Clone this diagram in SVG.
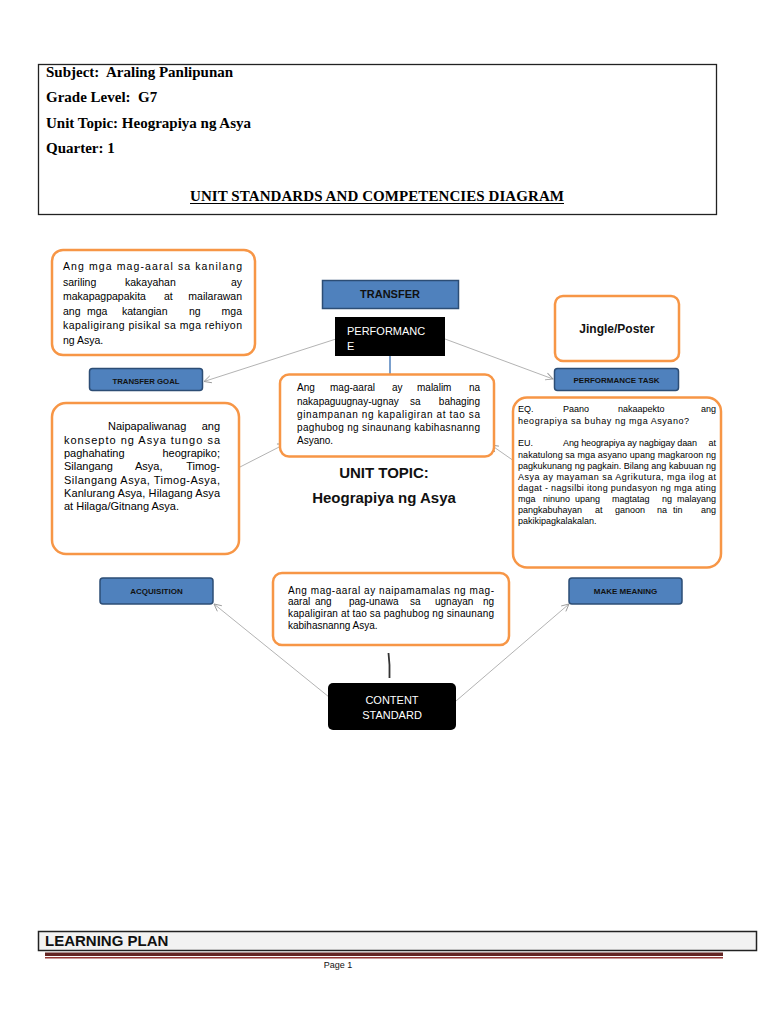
<svg xmlns="http://www.w3.org/2000/svg" width="768" height="1024" viewBox="0 0 768 1024">
<defs>
<marker id="arr" viewBox="0 0 10 10" refX="9" refY="5" markerWidth="9" markerHeight="9" orient="auto" markerUnits="userSpaceOnUse">
<path d="M1,1 L9,5 L1,9" fill="none" stroke="#9a9a9a" stroke-width="1"/>
</marker>
<style>
.hdr{font-family:"Liberation Serif","Times New Roman",serif;font-weight:bold;font-size:15px;fill:#000}
.ob{fill:#fff;stroke:#f79646;stroke-width:2.5}
.bb{fill:#4f81bd;stroke:#2c4d75;stroke-width:1.5}
.blk{fill:#000}
.t{font-family:"Liberation Sans",Arial,sans-serif;fill:#000}
.s105{font-size:10.5px}
.s10{font-size:10px}
.s11{font-size:11px}
.s9{font-size:9px}
.lbl{font-family:"Liberation Sans",Arial,sans-serif;font-weight:bold;fill:#111;text-anchor:middle}
.wt{font-family:"Liberation Sans",Arial,sans-serif;fill:#fff;font-size:11px}
.con{stroke:#a0a0a0;stroke-width:0.8;fill:none}
.e{text-anchor:end}
</style>
</defs>
<rect width="768" height="1024" fill="#fff"/>

<g id="header">
<rect x="38.5" y="64.5" width="678" height="150" fill="#fff" stroke="#222" stroke-width="1.3"/>
<text class="hdr" x="46" y="77">Subject:&#160; Araling Panlipunan</text>
<text class="hdr" x="46" y="102">Grade Level:&#160; G7</text>
<text class="hdr" x="46" y="128">Unit Topic: Heograpiya ng Asya</text>
<text class="hdr" x="46" y="153">Quarter: 1</text>
<text class="hdr" x="190" y="201" textLength="374" lengthAdjust="spacing">UNIT STANDARDS AND COMPETENCIES DIAGRAM</text>
<line x1="190" y1="203.5" x2="564" y2="203.5" stroke="#000" stroke-width="1.2"/>
</g>

<g id="connectors">
<line class="con" x1="336" y1="339" x2="204" y2="381.5" marker-end="url(#arr)"/>
<line class="con" x1="445" y1="339" x2="553" y2="379" marker-end="url(#arr)"/>
<line class="con" x1="240" y1="467" x2="285" y2="444" marker-end="url(#arr)"/>
<line class="con" x1="514" y1="461" x2="491" y2="445" marker-end="url(#arr)"/>
<line class="con" x1="329" y1="697" x2="214" y2="604" marker-end="url(#arr)"/>
<line class="con" x1="456" y1="701" x2="569" y2="604" marker-end="url(#arr)"/>
<line x1="390" y1="356" x2="390" y2="375" stroke="#4f81bd" stroke-width="1.5"/>
<path d="M388.5,653 L389.5,665 L389.5,678" stroke="#333" stroke-width="1.8" fill="none"/>
</g>

<g id="transfer-goal-text">
<rect class="ob" x="52" y="250" width="203" height="105" rx="11"/>
<text class="t s105" x="63" y="270" textLength="179" lengthAdjust="spacing">Ang mga mag-aaral sa kanilang</text>
<text class="t s105" y="285.5"><tspan x="63">sariling</tspan><tspan x="125">kakayahan</tspan></text>
<text class="t s105 e" x="242" y="285.5">ay</text>
<text class="t s105" y="300"><tspan x="63">makapagpapakita</tspan><tspan x="164">at</tspan></text>
<text class="t s105 e" x="242" y="300">mailarawan</text>
<text class="t s105" y="314.5"><tspan x="63">ang</tspan><tspan x="87">mga</tspan><tspan x="122">katangian</tspan><tspan x="189">ng</tspan></text>
<text class="t s105 e" x="242" y="314.5">mga</text>
<text class="t s105" x="63" y="329" textLength="179" lengthAdjust="spacing">kapaligirang pisikal sa mga rehiyon</text>
<text class="t s105" x="63" y="343.5">ng Asya.</text>
</g>

<g id="transfer-goal">
<rect class="bb" x="89.5" y="368.5" width="113" height="22" rx="3"/>
<text class="lbl" x="146" y="384" font-size="7.8">TRANSFER GOAL</text>
</g>

<g id="transfer">
<rect class="bb" x="322.5" y="280.5" width="136" height="28"/>
<text class="lbl" x="390" y="298" font-size="11">TRANSFER</text>
</g>

<g id="performance">
<rect class="blk" x="335" y="317" width="110" height="39"/>
<text class="wt" x="347" y="335">PERFORMANC</text>
<text class="wt" x="347" y="350">E</text>
</g>

<g id="performance-standard">
<rect class="ob" x="280" y="374.5" width="214" height="82" rx="9"/>
<text class="t s10" y="391"><tspan x="297">Ang</tspan><tspan x="330">mag-aaral</tspan><tspan x="392">ay</tspan><tspan x="417">malalim</tspan></text>
<text class="t s10 e" x="480" y="391">na</text>
<text class="t s10" y="404.5"><tspan x="297">nakapaguugnay-ugnay</tspan><tspan x="410">sa</tspan></text>
<text class="t s10 e" x="480" y="404.5">bahaging</text>
<text class="t s10" x="297" y="417.5" textLength="183" lengthAdjust="spacing">ginampanan ng kapaligiran at tao sa</text>
<text class="t s10" x="297" y="430.5" textLength="183" lengthAdjust="spacing">paghubog ng sinaunang kabihasnanng</text>
<text class="t s10" x="297" y="443.5">Asyano.</text>
</g>

<g id="unit-topic">
<text class="lbl" x="384" y="478" font-size="15">UNIT TOPIC:</text>
<text class="lbl" x="384" y="503" font-size="15">Heograpiya ng Asya</text>
</g>

<g id="jingle-poster">
<rect class="ob" x="555" y="296" width="124" height="65" rx="8"/>
<text class="lbl" x="617" y="333" font-size="12">Jingle/Poster</text>
</g>

<g id="performance-task">
<rect class="bb" x="554.5" y="368.5" width="124" height="22" rx="3"/>
<text class="lbl" x="616.5" y="382.5" font-size="8">PERFORMANCE TASK</text>
</g>

<g id="make-meaning-text">
<rect class="ob" x="513" y="397.5" width="208" height="170" rx="14"/>
<text class="t s9" y="412"><tspan x="518">EQ.</tspan><tspan x="563">Paano</tspan><tspan x="618">nakaapekto</tspan></text>
<text class="t s9 e" x="716" y="412">ang</text>
<text class="t s9" x="518" y="424" textLength="171" lengthAdjust="spacing">heograpiya sa buhay ng mga Asyano?</text>
<text class="t s9" x="518" y="446">EU.</text>
<text class="t s9" x="563" y="446" textLength="134" lengthAdjust="spacing">Ang heograpiya ay nagbigay daan</text>
<text class="t s9 e" x="716" y="446">at</text>
<text class="t s9" x="518" y="457.5" textLength="198" lengthAdjust="spacing">nakatulong sa mga asyano upang magkaroon ng</text>
<text class="t s9" x="518" y="468.5" textLength="198" lengthAdjust="spacing">pagkukunang ng pagkain. Bilang ang kabuuan ng</text>
<text class="t s9" x="518" y="479.5" textLength="198" lengthAdjust="spacing">Asya ay mayaman sa Agrikutura, mga ilog at</text>
<text class="t s9" x="518" y="490.5" textLength="198" lengthAdjust="spacing">dagat - nagsilbi itong pundasyon ng mga ating</text>
<text class="t s9" y="501.5"><tspan x="518">mga</tspan><tspan x="543">ninuno</tspan><tspan x="575">upang</tspan><tspan x="612">magtatag</tspan><tspan x="662">ng</tspan></text>
<text class="t s9 e" x="716" y="501.5">malayang</text>
<text class="t s9" y="512.5"><tspan x="518">pangkabuhayan</tspan><tspan x="595">at</tspan><tspan x="615">ganoon</tspan><tspan x="657">na</tspan><tspan x="673">tin</tspan></text>
<text class="t s9 e" x="716" y="512.5">ang</text>
<text class="t s9" x="518" y="523.5">pakikipagkalakalan.</text>
</g>

<g id="acquisition-text">
<rect class="ob" x="52" y="403" width="187" height="151" rx="14"/>
<text class="t s11" x="108" y="430">Naipapaliwanag</text>
<text class="t s11 e" x="220" y="430">ang</text>
<text class="t s11" x="64" y="443.5" textLength="156" lengthAdjust="spacing">konsepto ng Asya tungo sa</text>
<text class="t s11" x="64" y="456.5">paghahating</text>
<text class="t s11 e" x="220" y="456.5">heograpiko;</text>
<text class="t s11" y="470"><tspan x="64">Silangang</tspan><tspan x="135">Asya,</tspan></text>
<text class="t s11 e" x="220" y="470">Timog-</text>
<text class="t s11" x="64" y="483.5" textLength="156" lengthAdjust="spacing">Silangang Asya, Timog-Asya,</text>
<text class="t s11" x="64" y="496.5" textLength="156" lengthAdjust="spacing">Kanlurang Asya, Hilagang Asya</text>
<text class="t s11" x="64" y="510">at Hilaga/Gitnang Asya.</text>
</g>

<g id="acquisition">
<rect class="bb" x="100" y="578" width="113" height="26" rx="3"/>
<text class="lbl" x="156.5" y="594" font-size="8">ACQUISITION</text>
</g>

<g id="make-meaning">
<rect class="bb" x="569" y="578" width="113" height="26" rx="3"/>
<text class="lbl" x="625.5" y="594" font-size="8">MAKE MEANING</text>
</g>

<g id="content-standard-text">
<rect class="ob" x="273" y="573" width="236" height="72" rx="9"/>
<text class="t s10" x="288" y="593.5" textLength="206" lengthAdjust="spacing">Ang mag-aaral ay naipamamalas ng mag-</text>
<text class="t s10" y="605"><tspan x="288">aaral</tspan><tspan x="315">ang</tspan><tspan x="349">pag-unawa</tspan><tspan x="410">sa</tspan><tspan x="435">ugnayan</tspan></text>
<text class="t s10 e" x="494" y="605">ng</text>
<text class="t s10" x="288" y="617" textLength="206" lengthAdjust="spacing">kapaligiran at tao sa paghubog ng sinaunang</text>
<text class="t s10" x="288" y="629">kabihasnanng Asya.</text>
</g>

<g id="content-standard">
<rect class="blk" x="328" y="683" width="128" height="47" rx="5"/>
<text class="wt" x="392" y="704" text-anchor="middle">CONTENT</text>
<text class="wt" x="392" y="719" text-anchor="middle">STANDARD</text>
</g>

<g id="footer">
<rect x="38.5" y="931.5" width="718" height="19" fill="#f2f2f2" stroke="#222" stroke-width="1.5"/>
<text x="45" y="946" font-family="Liberation Sans,Arial,sans-serif" font-weight="bold" font-size="15" fill="#111">LEARNING PLAN</text>
<rect x="45" y="952.5" width="678" height="3.5" fill="#632523"/>
<rect x="45" y="957" width="678" height="1.5" fill="#943634"/>
<text x="338" y="968" font-family="Liberation Sans,Arial,sans-serif" font-size="9" fill="#111" text-anchor="middle">Page 1</text>
</g>
</svg>
